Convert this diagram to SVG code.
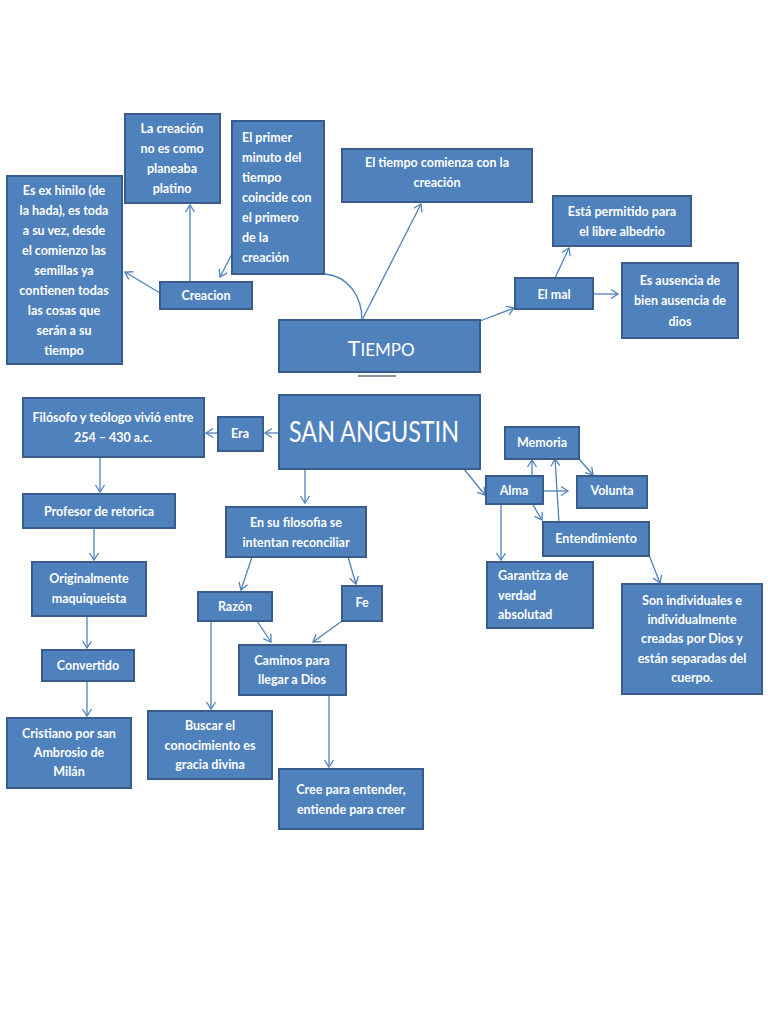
<svg xmlns="http://www.w3.org/2000/svg" width="768" height="1024" viewBox="0 0 768 1024">
<style>
.box{fill:#4f81bd;stroke:#385d8a;stroke-width:2}
.t{font-family:Lato,"Open Sans","Liberation Sans",sans-serif;font-size:12.5px;font-weight:bold;fill:#ffffff;text-anchor:middle}
.l{text-anchor:start}
.c{fill:none;stroke:#4f81bd;stroke-width:1.3}
</style>
<defs>
<marker id="a" markerUnits="userSpaceOnUse" markerWidth="16" markerHeight="16" viewBox="-10 -8 12 16" refX="0" refY="0" orient="auto">
<path d="M -7 -4.5 L 0 0 L -7 4.5" fill="none" stroke="#4f81bd" stroke-width="1.3"/>
</marker>
</defs>
<rect width="768" height="1024" fill="#ffffff"/>
<g id="connectors">
<line class="c" x1="190" y1="282" x2="190" y2="205" marker-end="url(#a)"/>
<line class="c" x1="160" y1="293" x2="125" y2="272" marker-end="url(#a)"/>
<line class="c" x1="232" y1="254" x2="220" y2="277" marker-end="url(#a)"/>
<path class="c" d="M 325 274 C 348 276 362 296 362 320"/>
<line class="c" x1="362" y1="320" x2="421" y2="204" marker-end="url(#a)"/>
<line class="c" x1="480" y1="321" x2="514" y2="308" marker-end="url(#a)"/>
<line class="c" x1="555" y1="278" x2="569" y2="248" marker-end="url(#a)"/>
<line class="c" x1="594" y1="294" x2="618" y2="294" marker-end="url(#a)"/>
<line class="c" x1="279" y1="433" x2="265" y2="433" marker-end="url(#a)"/>
<line class="c" x1="217" y1="433" x2="206" y2="433" marker-end="url(#a)"/>
<line class="c" x1="100" y1="457" x2="100" y2="492" marker-end="url(#a)"/>
<line class="c" x1="94" y1="528" x2="94" y2="560" marker-end="url(#a)"/>
<line class="c" x1="87" y1="616" x2="87" y2="648" marker-end="url(#a)"/>
<line class="c" x1="87" y1="681" x2="87" y2="716" marker-end="url(#a)"/>
<line class="c" x1="305" y1="469" x2="305" y2="503" marker-end="url(#a)"/>
<line class="c" x1="252" y1="557" x2="241" y2="590" marker-end="url(#a)"/>
<line class="c" x1="348" y1="557" x2="356" y2="584" marker-end="url(#a)"/>
<line class="c" x1="257" y1="621" x2="271" y2="642" marker-end="url(#a)"/>
<line class="c" x1="342" y1="621" x2="313" y2="642" marker-end="url(#a)"/>
<line class="c" x1="211" y1="621" x2="211" y2="709" marker-end="url(#a)"/>
<line class="c" x1="329" y1="695" x2="329" y2="767" marker-end="url(#a)"/>
<line class="c" x1="464" y1="469" x2="485" y2="495" marker-end="url(#a)"/>
<line class="c" x1="532" y1="476" x2="532" y2="460" marker-end="url(#a)"/>
<line class="c" x1="544" y1="491" x2="568" y2="491" marker-end="url(#a)"/>
<line class="c" x1="579" y1="459" x2="593" y2="475" marker-end="url(#a)"/>
<line class="c" x1="533" y1="505" x2="542" y2="520" marker-end="url(#a)"/>
<line class="c" x1="559" y1="522" x2="555" y2="459" marker-end="url(#a)"/>
<line class="c" x1="501" y1="505" x2="501" y2="560" marker-end="url(#a)"/>
<line class="c" x1="649" y1="555" x2="660" y2="583" marker-end="url(#a)"/>
<line x1="358" y1="376" x2="396" y2="376" stroke="#8a90a0" stroke-width="2"/>
</g>
<g id="n-platino"><rect class="box" x="125" y="114" width="95" height="89"/>
<text class="t"><tspan x="172" y="133">La creación</tspan><tspan x="172" y="153">no es como</tspan><tspan x="172" y="173">planeaba</tspan><tspan x="172" y="193">platino</tspan></text></g>
<g id="n-hinilo"><rect class="box" x="7" y="176" width="115" height="188"/>
<text class="t"><tspan x="64" y="195">Es ex hinilo (de</tspan><tspan x="64" y="215">la hada), es toda</tspan><tspan x="64" y="235">a su vez, desde</tspan><tspan x="64" y="255">el comienzo las</tspan><tspan x="64" y="275">semillas ya</tspan><tspan x="64" y="295">contienen todas</tspan><tspan x="64" y="315">las cosas que</tspan><tspan x="64" y="335">serán a su</tspan><tspan x="64" y="355">tiempo</tspan></text></g>
<g id="n-creacion"><rect class="box" x="160" y="282" width="92" height="27"/>
<text class="t" x="206" y="300">Creacion</text></g>
<g id="n-primer"><rect class="box" x="232" y="121" width="92" height="153"/>
<text class="t l"><tspan x="242" y="142">El primer</tspan><tspan x="242" y="162">minuto del</tspan><tspan x="242" y="182">tiempo</tspan><tspan x="242" y="202">coincide con</tspan><tspan x="242" y="222">el primero</tspan><tspan x="242" y="242">de la</tspan><tspan x="242" y="262">creación</tspan></text></g>
<g id="n-comienza"><rect class="box" x="342" y="149" width="190" height="53"/>
<text class="t"><tspan x="437" y="167">El tiempo comienza con la</tspan><tspan x="437" y="187">creación</tspan></text></g>
<g id="n-tiempo"><rect class="box" x="279" y="320" width="201" height="52"/>
<text class="t" x="381" y="356" style="font-weight:normal;font-size:17px"><tspan style="font-size:22px">T</tspan>IEMPO</text></g>
<g id="n-permitido"><rect class="box" x="553" y="196" width="138" height="50"/>
<text class="t"><tspan x="622" y="216">Está permitido para</tspan><tspan x="622" y="236">el libre albedrio</tspan></text></g>
<g id="n-mal"><rect class="box" x="515" y="278" width="78" height="31"/>
<text class="t" x="554" y="299">El mal</text></g>
<g id="n-ausencia"><rect class="box" x="622" y="263" width="116" height="75"/>
<text class="t"><tspan x="680" y="285">Es ausencia de</tspan><tspan x="680" y="305">bien ausencia de</tspan><tspan x="680" y="326">dios</tspan></text></g>
<g id="n-san"><rect class="box" x="279" y="395" width="201" height="74"/>
<text class="t l" x="289" y="442" textLength="170" lengthAdjust="spacingAndGlyphs" style="font-weight:normal;font-size:29px">SAN ANGUSTIN</text></g>
<g id="n-era"><rect class="box" x="218" y="417" width="45" height="34"/>
<text class="t" x="240" y="438">Era</text></g>
<g id="n-filosofo"><rect class="box" x="23" y="398" width="181" height="59"/>
<text class="t"><tspan x="113" y="422">Filósofo y teólogo vivió entre</tspan><tspan x="113" y="442">254 – 430 a.c.</tspan></text></g>
<g id="n-profesor"><rect class="box" x="23" y="494" width="152" height="34"/>
<text class="t" x="99" y="516">Profesor de retorica</text></g>
<g id="n-original"><rect class="box" x="32" y="562" width="114" height="54"/>
<text class="t"><tspan x="89" y="583">Originalmente</tspan><tspan x="89" y="603">maquiqueista</tspan></text></g>
<g id="n-convertido"><rect class="box" x="42" y="650" width="92" height="31"/>
<text class="t" x="88" y="670">Convertido</text></g>
<g id="n-cristiano"><rect class="box" x="7" y="718" width="124" height="70"/>
<text class="t"><tspan x="69" y="738">Cristiano por san</tspan><tspan x="69" y="757">Ambrosio de</tspan><tspan x="69" y="776">Milán</tspan></text></g>
<g id="n-filosofia"><rect class="box" x="226" y="507" width="140" height="50"/>
<text class="t"><tspan x="296" y="527">En su filosofia se</tspan><tspan x="296" y="547">intentan reconciliar</tspan></text></g>
<g id="n-razon"><rect class="box" x="198" y="592" width="74" height="29"/>
<text class="t" x="235" y="611">Razón</text></g>
<g id="n-fe"><rect class="box" x="342" y="586" width="40" height="35"/>
<text class="t" x="362" y="607">Fe</text></g>
<g id="n-caminos"><rect class="box" x="239" y="645" width="107" height="50"/>
<text class="t"><tspan x="292" y="665">Caminos para</tspan><tspan x="292" y="684">llegar a Dios</tspan></text></g>
<g id="n-buscar"><rect class="box" x="148" y="711" width="124" height="68"/>
<text class="t"><tspan x="210" y="730">Buscar el</tspan><tspan x="210" y="750">conocimiento es</tspan><tspan x="210" y="769">gracia divina</tspan></text></g>
<g id="n-cree"><rect class="box" x="279" y="769" width="144" height="60"/>
<text class="t"><tspan x="351" y="794">Cree para  entender,</tspan><tspan x="351" y="814">entiende para creer</tspan></text></g>
<g id="n-memoria"><rect class="box" x="505" y="427" width="74" height="32"/>
<text class="t" x="542" y="447">Memoria</text></g>
<g id="n-alma"><rect class="box" x="486" y="476" width="57" height="28"/>
<text class="t" x="514" y="495">Alma</text></g>
<g id="n-volunta"><rect class="box" x="577" y="476" width="70" height="32"/>
<text class="t" x="612" y="495">Volunta</text></g>
<g id="n-entendimiento"><rect class="box" x="543" y="522" width="106" height="34"/>
<text class="t" x="596" y="543">Entendimiento</text></g>
<g id="n-garantiza"><rect class="box" x="487" y="562" width="106" height="66"/>
<text class="t l"><tspan x="498" y="580">Garantiza de</tspan><tspan x="498" y="600">verdad</tspan><tspan x="498" y="619">absolutad</tspan></text></g>
<g id="n-individuales"><rect class="box" x="622" y="584" width="140" height="110"/>
<text class="t"><tspan x="692" y="605">Son individuales e</tspan><tspan x="692" y="624">individualmente</tspan><tspan x="692" y="643">creadas por Dios y</tspan><tspan x="692" y="663">están separadas del</tspan><tspan x="692" y="682">cuerpo.</tspan></text></g>
</svg>
